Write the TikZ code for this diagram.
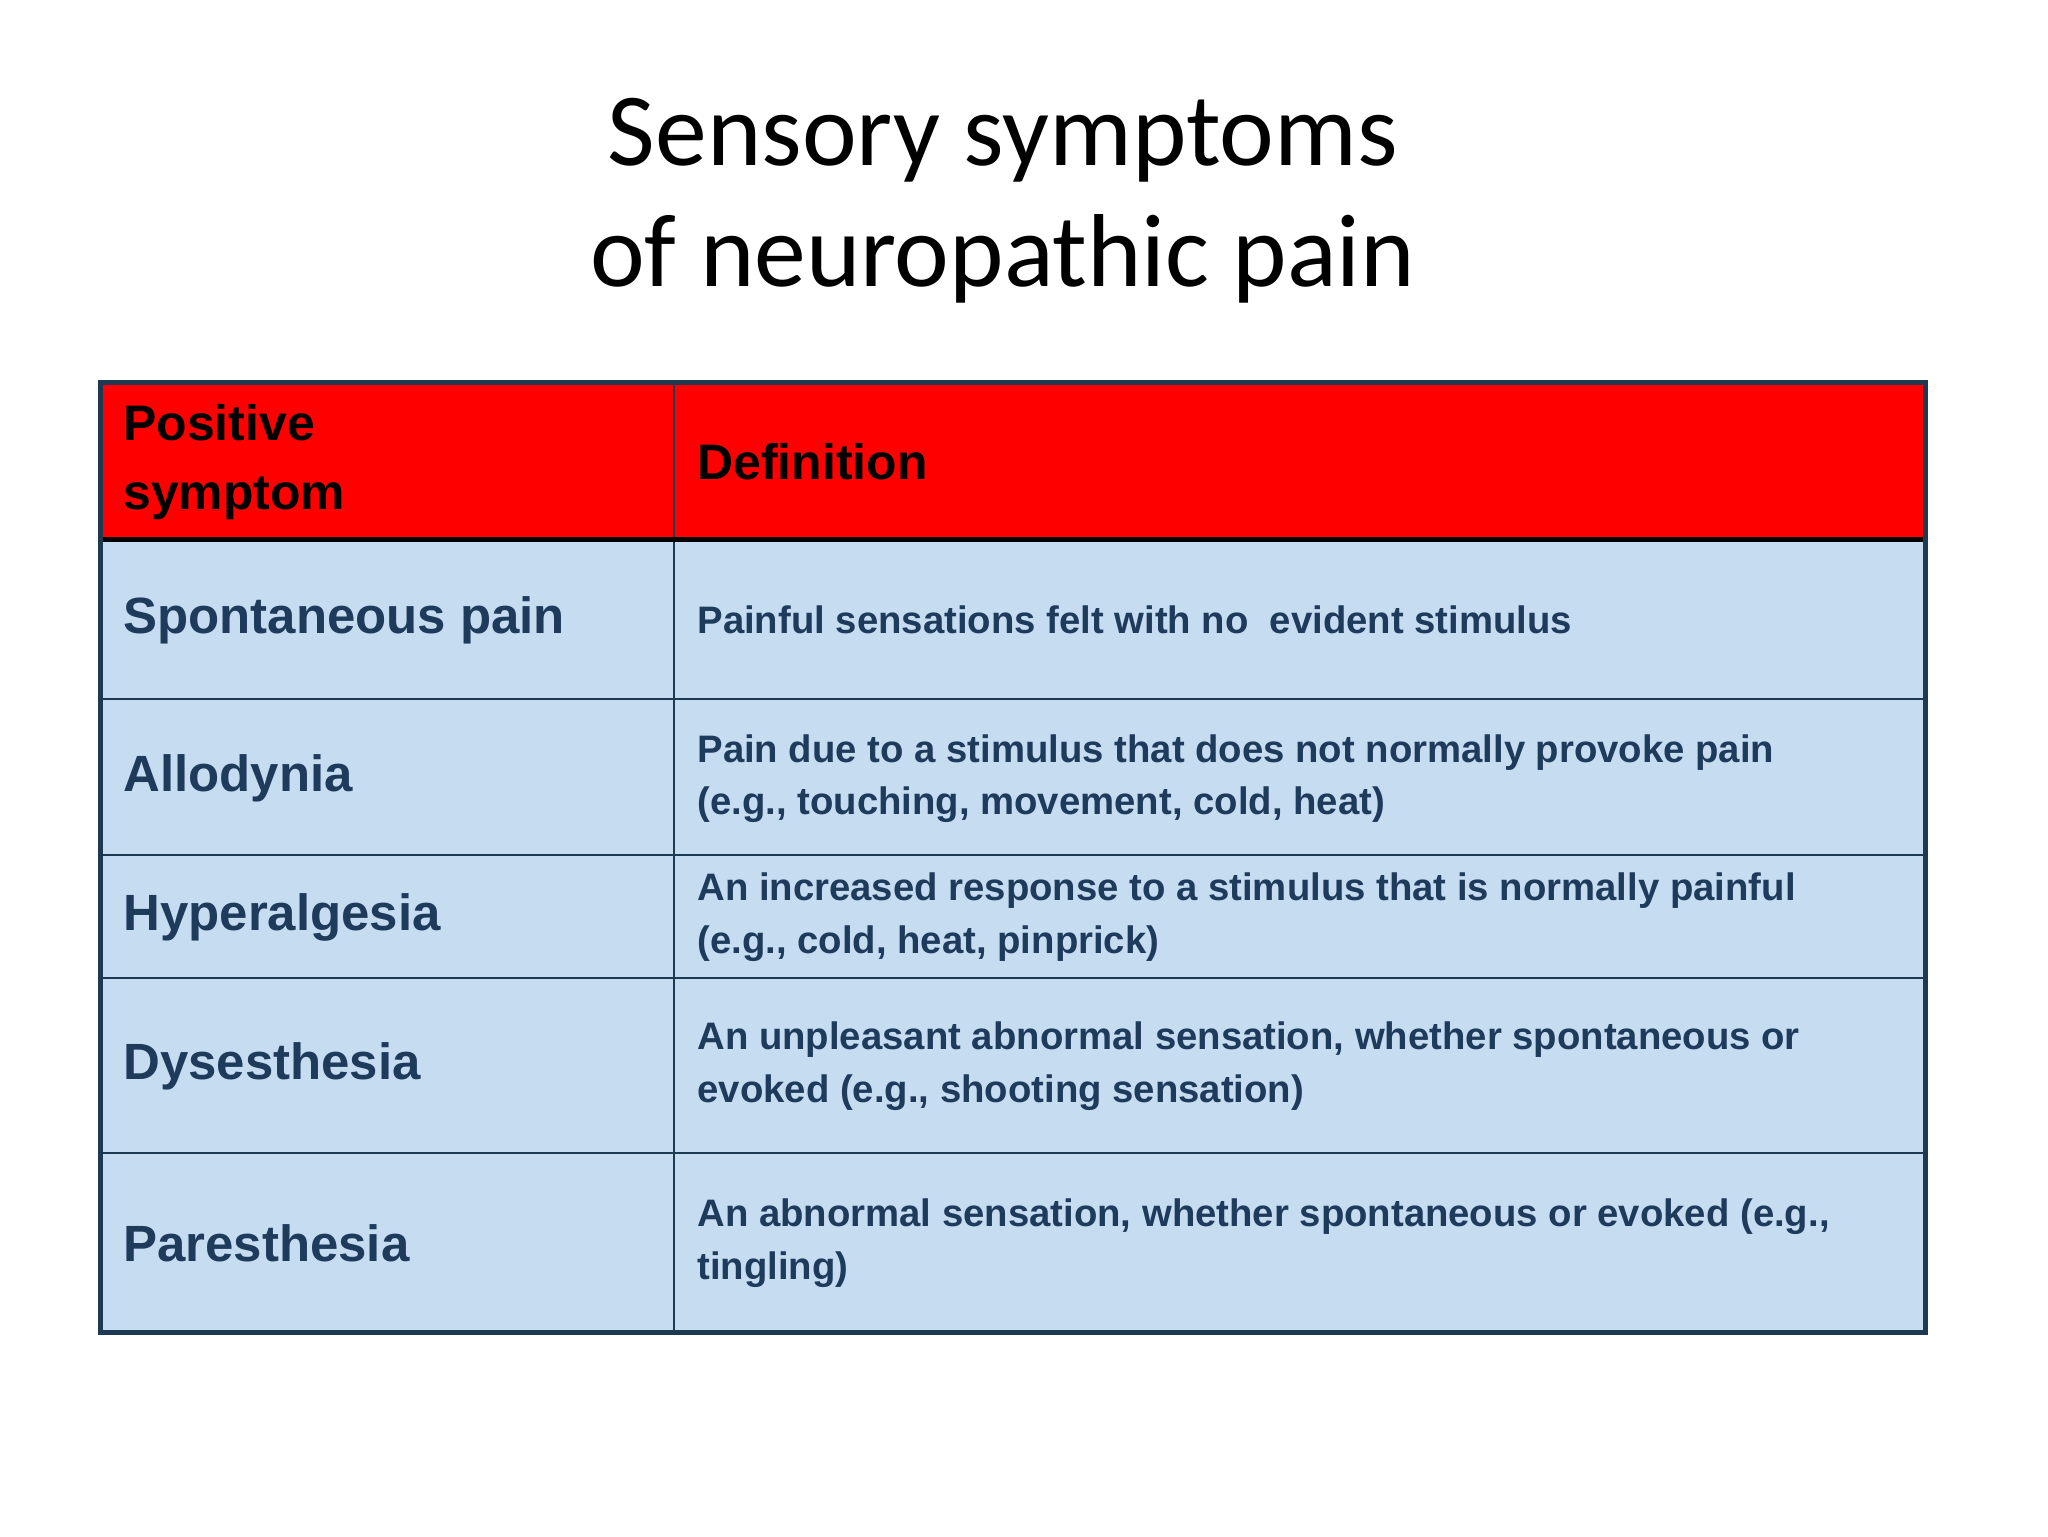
\documentclass[tikz,border=0pt]{standalone}
\usepackage{fontspec}
\setmainfont{Liberation Sans}
\newfontfamily\titlefont{Carlito}
\definecolor{txt}{HTML}{1F3B5C}
\definecolor{cellbg}{HTML}{C6DCF0}
\definecolor{hdr}{HTML}{FF0000}
\definecolor{rule}{HTML}{1E3A52}
\begin{document}
\begin{tikzpicture}[x=0.013196cm,y=-0.013196cm,
  sym/.style={anchor=west,font=\fontsize{14.5}{17}\selectfont\bfseries,text=txt,inner sep=0pt,align=left},
  defn/.style={anchor=west,font=\fontsize{10.9}{15}\selectfont\bfseries,text=txt,inner sep=0pt,align=left},
  hd/.style={anchor=west,font=\fontsize{14.2}{19.5}\selectfont\bfseries,text=black,inner sep=0pt,align=left}]
\useasboundingbox (0,0) rectangle (1552,1164);
\fill[white] (0,0) rectangle (1552,1164);
\node[font=\titlefont\fontsize{29.5}{34.5}\selectfont,align=center] (title) at (760,152) {Sensory symptoms\\of neuropathic pain};
\fill[hdr] (76,290) rectangle (1459,409);
\fill[cellbg] (76,409) rectangle (1459,1010);
\draw[rule,line width=0.6pt] (511,290) -- (511,1010);
\foreach \y in {530,648,741,874} \draw[rule,line width=0.6pt] (76,\y) -- (1459,\y);
\draw[black,line width=1.5pt] (76,409) -- (1459,409);
\draw[rule,line width=1.5pt] (76,290) rectangle (1459,1010);
\node[hd] (h1) at (93,350) {Positive\\symptom};
\node[hd] (h2) at (528,350) {Definition};
\node[sym] (s1) at (93,470) {Spontaneous pain};
\node[defn] (d1) at (528,470) {Painful sensations felt with no\ \ evident stimulus};
\node[sym] (s2) at (93,590) {Allodynia};
\node[defn] (d2) at (528,590) {Pain due to a stimulus that does not normally provoke pain\\(e.g., touching, movement, cold, heat)};
\node[sym] (s3) at (93,695) {Hyperalgesia};
\node[defn] (d3) at (528,695) {An increased response to a stimulus that is normally painful\\(e.g., cold, heat, pinprick)};
\node[sym] (s4) at (93,808) {Dysesthesia};
\node[defn] (d4) at (528,808) {An unpleasant abnormal sensation, whether spontaneous or\\evoked (e.g., shooting sensation)};
\node[sym] (s5) at (93,942) {Paresthesia};
\node[defn] (d5) at (528,942) {An abnormal sensation, whether spontaneous or evoked (e.g.,\\tingling)};
\end{tikzpicture}
\end{document}
